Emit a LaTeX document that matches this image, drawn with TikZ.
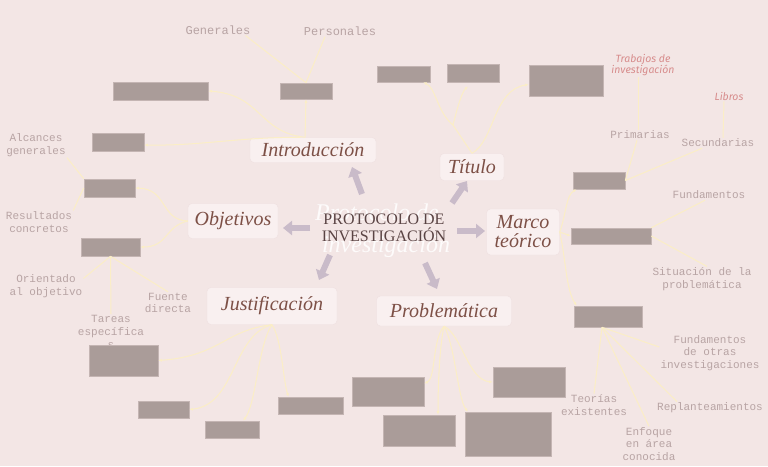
\documentclass[tikz,border=0pt]{standalone}
\usepackage{fontspec}
\setmainfont{Liberation Serif}
\setmonofont{Liberation Mono}
\newfontfamily\trabfont{Fira Sans}
\usetikzlibrary{arrows.meta}

\definecolor{bgpink}{HTML}{F3E6E5}
\definecolor{boxgray}{HTML}{AA9C99}
\definecolor{grayedge}{HTML}{C4B5B3}
\definecolor{boxwhite}{HTML}{F9F0F0}
\definecolor{boxedge}{HTML}{EFE0E0}
\definecolor{scriptbrown}{HTML}{7D5046}
\definecolor{titlebrown}{HTML}{5A4444}
\definecolor{labelpink}{HTML}{B8A4A4}
\definecolor{trabpink}{HTML}{D78C8C}
\definecolor{creamline}{HTML}{FBEEC6}
\definecolor{bigarrow}{HTML}{C9BBC9}

\begin{document}
\begin{tikzpicture}
[x=1pt,y=-1pt,
 mainbox/.style={fill=boxwhite,draw=boxedge,rounded corners=4pt,text=scriptbrown,
   font=\itshape\fontsize{20}{21}\selectfont,align=center,inner sep=2pt},
 graybox/.style 2 args={fill=boxgray,draw=grayedge,line width=0.6pt,
   minimum width=#1,minimum height=#2,inner sep=0pt},
 lbl/.style={text=labelpink,font=\ttfamily\fontsize{11}{12.5}\selectfont,align=center,inner sep=1pt},
 trab/.style={text=trabpink,font=\trabfont\itshape\fontsize{10.5}{11.5}\selectfont,align=center,inner sep=1pt},
 link/.style={draw=creamline,line width=1pt},
 linkto/.style={link,-{Latex[length=3.5pt,width=3pt]}},
 blockarrow/.style={draw=bigarrow,line width=6pt,-{Triangle[width=14pt,length=9pt]}}]

% the page
\fill[bgpink] (0,0) rectangle (768,466);
\useasboundingbox (0,0) rectangle (768,466);

% the centre
\node[text=white,opacity=0.85,font=\itshape\fontsize{24}{24}\selectfont] (wsA) at (377,212) {Protocolo de};
\node[text=white,opacity=0.85,font=\itshape\fontsize{24}{24}\selectfont] (wsB) at (386,247) {investigación};
\node[text=titlebrown,font=\fontsize{16}{17}\selectfont,align=center] (centre) at (384,228)
  {PROTOCOLO DE\\INVESTIGACIÓN};

% the main topics
\node[mainbox,minimum width=126pt,minimum height=25pt] (intro) at (313,150) {Introducción};
\node[mainbox,minimum width=90pt,minimum height=35pt] (obj) at (233,221) {Objetivos};
\node[mainbox,minimum width=64pt,minimum height=27pt] (tit) at (472,167) {Título};
\node[mainbox,minimum width=73pt,minimum height=46pt,font=\itshape\fontsize{20}{19}\selectfont] (marco) at (523,232) {Marco\\teórico};
\node[mainbox,minimum width=130pt,minimum height=37pt] (just) at (272,306) {Justificación};
\node[mainbox,minimum width=135pt,minimum height=30pt] (prob) at (444,311) {Problemática};

% the block arrows
\coordinate (aI1) at (362,194); \coordinate (aI2) at (352,167);
\coordinate (aO1) at (310,228); \coordinate (aO2) at (283,228);
\coordinate (aT1) at (452,203); \coordinate (aT2) at (467,181);
\coordinate (aM1) at (457,231); \coordinate (aM2) at (485,231);
\coordinate (aJ1) at (330,255); \coordinate (aJ2) at (319,280);
\coordinate (aP1) at (425,263); \coordinate (aP2) at (437,289);
\draw[blockarrow] (aI1) -- (aI2);
\draw[blockarrow] (aO1) -- (aO2);
\draw[blockarrow] (aT1) -- (aT2);
\draw[blockarrow] (aM1) -- (aM2);
\draw[blockarrow] (aJ1) -- (aJ2);
\draw[blockarrow] (aP1) -- (aP2);

% the free labels
\node[lbl] (gen) at (218,30) {\fontsize{12}{13}\selectfont Generales};
\node[lbl] (pers) at (340,31) {\fontsize{12}{13}\selectfont Personales};
\node[lbl] (alc) at (36,145) {Alcances\\generales};
\node[lbl] (res) at (39,222) {Resultados\\concretos};
\node[lbl] (ori) at (46,286) {Orientado\\al objetivo};
\node[lbl,font=\ttfamily\fontsize{11}{13}\selectfont] (tar) at (111,332) {Tareas\\específica\\s};
\node[lbl] (fue) at (168,303) {Fuente\\directa};
\node[lbl] (prim) at (640,135) {Primarias};
\node[lbl] (sec) at (718,143) {Secundarias};
\node[trab] (trabj) at (643,65) {Trabajos de\\investigación};
\node[trab] (lib) at (729,96) {Libros};
\node[lbl] (fund) at (709,195) {Fundamentos};
\node[lbl] (sit) at (702,279) {Situación de la\\problemática};
\node[lbl] (fdo) at (710,353) {Fundamentos\\de otras\\investigaciones};
\node[lbl] (rep) at (710,408) {Replanteamientos};
\node[lbl] (teo) at (594,405) {Teorías\\existentes};
\node[lbl] (enf) at (649,444) {Enfoque\\en área\\conocida};

% the gray boxes
\node[graybox={95pt}{18pt}] (b1) at (160.5,91) {};
\node[graybox={52pt}{16pt}] (b2) at (306,91) {};
\node[graybox={52pt}{18pt}] (b3) at (118,142) {};
\node[graybox={51pt}{18pt}] (b4) at (109.5,188) {};
\node[graybox={59pt}{18pt}] (b5) at (110.5,247) {};
\node[graybox={53pt}{16pt}] (t1) at (403.5,74) {};
\node[graybox={52pt}{18pt}] (t2) at (473,73) {};
\node[graybox={74pt}{31pt}] (t3) at (566,80.5) {};
\node[graybox={52pt}{17pt}] (m1) at (599,180.5) {};
\node[graybox={80pt}{16pt}] (m2) at (611,236) {};
\node[graybox={68pt}{21pt}] (m3) at (608,316.5) {};
\node[graybox={69pt}{31pt}] (j1) at (123.5,360.5) {};
\node[graybox={51pt}{17pt}] (j2) at (163.5,409.5) {};
\node[graybox={54pt}{17pt}] (j3) at (232,429.5) {};
\node[graybox={65pt}{17pt}] (j4) at (310.5,405.5) {};
\node[graybox={72pt}{29pt}] (p1) at (388,391.5) {};
\node[graybox={72pt}{31pt}] (p2) at (419,430.5) {};
\node[graybox={86pt}{44pt}] (p3) at (508,434) {};
\node[graybox={72pt}{30pt}] (p4) at (529,382) {};

% Introduccion
\draw[linkto] ([xshift=-8pt]intro.north) .. controls (258,132) and (262,95) .. (b1.east);
\draw[linkto] ([xshift=-13pt]intro.north) .. controls (240,137) and (200,146) .. ([yshift=-3pt]b3.east);
\draw[linkto] ([xshift=-8pt]intro.north) -- (b2.south);
\draw[link] (b2.north) -- ([xshift=-6pt]gen.south east);
\draw[link] (b2.north) -- ([xshift=-15pt]pers.south);

% Objetivos
\draw[linkto] (obj.west) .. controls (160,220) and (168,189) .. (b4.east);
\draw[linkto] (obj.west) .. controls (165,226) and (168,247) .. (b5.east);
\draw[link] (b4.north west) -- (alc.south east);
\draw[link] (b4.west) -- (res.north east);
\draw[link] (b5.south) -- ([yshift=-5pt]ori.north east);
\draw[link] (b5.south) -- (tar.north);
\draw[link] (b5.south) -- (fue.north);

% Titulo
\coordinate (tj) at (453,125);
\draw[link] (tit.north) -- (tj);
\draw[linkto] (tj) .. controls (437,112) and (436,88) .. ([xshift=-7pt]t1.south east);
\draw[linkto] (tj) .. controls (458,105) and (462,92) .. ([xshift=-5pt,yshift=-4pt]t2.south);
\draw[linkto] (tit.north) .. controls (495,140) and (493,90) .. ([yshift=-4pt]t3.west);

% Marco teorico
\draw[linkto] (marco.east) .. controls (566,215) and (566,195) .. ([xshift=4pt]m1.south west);
\draw[linkto] (marco.east) -- (m2.west);
\draw[linkto] (marco.east) .. controls (566,260) and (566,290) .. ([xshift=3pt]m3.north west);
\draw[link] (m1.east) -- ([xshift=-3pt]prim.south);
\draw[link] (m1.east) -- ([xshift=-16pt]sec.south);
\draw[link] ([xshift=-2pt]prim.north) -- ([xshift=-5pt]trabj.south);
\draw[link] ([xshift=5pt]sec.north) -- ([xshift=-5pt]lib.south);
\draw[link] (m2.north east) -- ([xshift=-4pt]fund.south);
\draw[link] (m2.east) -- ([xshift=5pt]sit.north);
\draw[link] ([xshift=-6pt]m3.south) -- ([yshift=6pt]fdo.west);
\draw[link] ([xshift=-6pt]m3.south) -- ([xshift=-33pt]rep.north);
\draw[link] ([xshift=-6pt]m3.south) -- (enf.north);
\draw[link] ([xshift=-6pt]m3.south) -- (teo.north);

% Justificacion
\draw[linkto] (just.south) .. controls (225,330) and (220,356) .. (j1.east);
\draw[linkto] (just.south) .. controls (232,335) and (236,405) .. (j2.east);
\draw[linkto] (just.south) .. controls (258,345) and (256,405) .. ([xshift=11pt]j3.north);
\draw[linkto] (just.south) .. controls (282,340) and (283,380) .. ([xshift=-22pt]j4.north);

% Problematica
\draw[linkto] (prob.south) .. controls (432,340) and (436,378) .. ([yshift=8pt]p1.east);
\draw[linkto] (prob.south) .. controls (439,350) and (438,390) .. ([xshift=19pt]p2.north);
\draw[linkto] (prob.south) .. controls (455,345) and (458,400) .. ([xshift=-40pt]p3.north);
\draw[linkto] (prob.south) .. controls (462,335) and (468,380) .. (p4.west);

\end{tikzpicture}
\end{document}
